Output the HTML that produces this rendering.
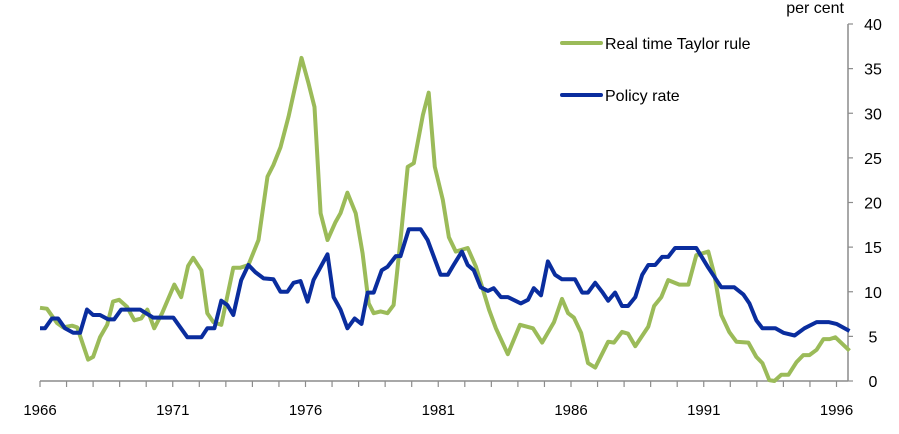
<!DOCTYPE html>
<html><head><meta charset="utf-8"><style>
html,body{margin:0;padding:0;background:#fff;}
svg{display:block;font-family:"Liberation Sans",sans-serif;}
</style></head><body>
<svg id="chart" width="899" height="434" viewBox="0 0 899 434">
<g id="axes"></g>
<g id="series"></g>
<g>
<line x1="562" y1="43" x2="601" y2="43" stroke="#9bbb59" stroke-width="4" stroke-linecap="round"/>
<text x="605" y="49" font-size="16" fill="#000">Real time Taylor rule</text>
<line x1="562" y1="95" x2="601" y2="95" stroke="#0a2d9e" stroke-width="4" stroke-linecap="round"/>
<text x="605" y="101" font-size="16" fill="#000">Policy rate</text>
</g>
<text x="844" y="13" font-size="16" text-anchor="end">per cent</text>
</svg>
<script>
const tickValues=[0,5,10,15,20,25,30,35,40];
const yearLabels=[1966,1971,1976,1981,1986,1991,1996];
const taylorDates=[1966,1966.26,1966.64,1966.87,1967.21,1967.4,1967.81,1968,1968.26,1968.53,1968.75,1968.98,1969.28,1969.55,1969.81,1970.04,1970.3,1970.6,1971.06,1971.32,1971.58,1971.77,1972.08,1972.3,1972.53,1972.83,1973.28,1973.55,1973.85,1974.23,1974.57,1974.79,1975.06,1975.36,1975.85,1976.11,1976.34,1976.57,1976.83,1977.13,1977.32,1977.58,1977.89,1978.15,1978.38,1978.57,1978.83,1979.09,1979.32,1979.58,1979.85,1980.08,1980.42,1980.64,1980.87,1981.17,1981.4,1981.66,1982.11,1982.42,1982.91,1983.17,1983.62,1984.08,1984.57,1984.91,1985.36,1985.66,1985.89,1986.11,1986.38,1986.64,1986.91,1987.4,1987.62,1987.92,1988.15,1988.42,1988.91,1989.13,1989.4,1989.66,1990.08,1990.42,1990.72,1991.17,1991.4,1991.66,1991.96,1992.23,1992.68,1992.98,1993.21,1993.47,1993.66,1993.92,1994.19,1994.49,1994.75,1994.98,1995.25,1995.51,1995.74,1995.96,1996.49];
const taylorValues=[8.2,8.1,6.5,6.0,6.2,6.0,2.4,2.7,4.9,6.3,8.9,9.1,8.3,6.8,7.0,8.0,5.9,7.6,10.8,9.4,12.9,13.8,12.4,7.6,6.6,6.3,12.7,12.7,13.0,15.8,22.9,24.2,26.2,29.6,36.2,33.4,30.7,18.8,15.8,17.8,18.8,21.1,18.8,14.3,8.7,7.6,7.8,7.6,8.5,15.8,24.0,24.4,29.8,32.3,24.0,20.3,16.1,14.5,14.9,12.8,8.0,5.9,3.0,6.3,5.9,4.3,6.6,9.2,7.6,7.1,5.4,2.0,1.5,4.4,4.3,5.5,5.3,3.9,6.1,8.4,9.4,11.3,10.8,10.8,14.1,14.5,11.9,7.4,5.5,4.4,4.3,2.7,2.0,0.1,0.0,0.7,0.7,2.1,2.9,2.9,3.5,4.7,4.7,4.9,3.4];
const policyDates=[1966,1966.19,1966.45,1966.68,1966.94,1967.25,1967.51,1967.77,1968,1968.26,1968.57,1968.79,1969.06,1969.77,1970.26,1971.02,1971.55,1972.08,1972.3,1972.57,1972.83,1973.06,1973.28,1973.58,1973.85,1974.11,1974.42,1974.79,1975.06,1975.32,1975.55,1975.81,1976.08,1976.3,1976.83,1977.06,1977.32,1977.58,1977.85,1978.11,1978.34,1978.57,1978.87,1979.09,1979.4,1979.58,1979.89,1980.34,1980.6,1981.09,1981.36,1981.58,1981.89,1982.11,1982.34,1982.6,1982.87,1983.09,1983.36,1983.62,1984.11,1984.38,1984.6,1984.87,1985.13,1985.4,1985.66,1986.15,1986.42,1986.64,1986.91,1987.17,1987.4,1987.66,1987.92,1988.15,1988.42,1988.68,1988.91,1989.17,1989.43,1989.66,1989.92,1990.72,1991.17,1991.66,1992.15,1992.49,1992.72,1992.98,1993.21,1993.7,1994,1994.42,1994.79,1995.25,1995.7,1996,1996.49];
const policyValues=[5.9,5.9,7.0,7.0,5.9,5.4,5.4,8.0,7.4,7.4,6.9,6.9,8.0,8.0,7.1,7.1,4.9,4.9,5.9,5.9,9.0,8.5,7.4,11.3,13.0,12.2,11.5,11.4,10.0,10.0,11.0,11.2,8.9,11.3,14.2,9.4,8.0,5.9,7.0,6.4,9.9,9.9,12.4,12.8,14.0,14.0,17.0,17.0,15.8,11.9,11.9,13.0,14.5,13.0,12.4,10.5,10.1,10.4,9.4,9.4,8.7,9.1,10.4,9.6,13.4,11.9,11.4,11.4,9.9,9.9,11.0,10.0,9.0,9.9,8.4,8.4,9.4,11.9,13.0,13.0,13.9,13.9,14.9,14.9,12.7,10.5,10.5,9.7,8.7,6.8,5.9,5.9,5.4,5.1,5.9,6.6,6.6,6.4,5.6];

const NS='http://www.w3.org/2000/svg';
const x0=40,x1=848,yBase=381,yTop=24;
const xScale=d=>x0+(d-1966)*26.55;
const yScale=v=>yBase-(v/40)*(yBase-yTop);
const axes=document.getElementById('axes');
const series=document.getElementById('series');
function mk(tag,attrs,parent){const e=document.createElementNS(NS,tag);for(const k in attrs)e.setAttribute(k,attrs[k]);parent.appendChild(e);return e;}

let l=mk('line',{x1:x0,y1:yBase,x2:x1,y2:yBase,stroke:'#8c8c8c','stroke-width':1.5},axes);


l=mk('line',{x1:x1,y1:yTop,x2:x1,y2:yBase,stroke:'#8c8c8c','stroke-width':1.5},axes);


for(let yr=1966;yr<=1996;yr++){
  const t=mk('line',{x1:xScale(yr),y1:yBase,x2:xScale(yr),y2:yBase+6,stroke:'#8c8c8c','stroke-width':1.2},axes);
  
  
}
yearLabels.forEach(yr=>{
  const t=mk('text',{x:xScale(yr),y:415,'font-size':15,'text-anchor':'middle'},axes);
  t.textContent=yr;
  
  
});
tickValues.forEach(v=>{
  const tk=mk('line',{x1:x1,y1:yScale(v),x2:x1+5,y2:yScale(v),stroke:'#8c8c8c','stroke-width':1.2},axes);
  
  
  const t=mk('text',{x:873,y:yScale(v)+6,'font-size':16,'text-anchor':'middle'},axes);
  t.textContent=v;
  
  
});
function path(dates,vals,color,name){
  const n=Math.min(dates.length,vals.length);
  let d='';
  for(let i=0;i<n;i++){d+=(i?'L':'M')+xScale(dates[i]).toFixed(1)+' '+yScale(vals[i]).toFixed(1)+' ';}
  const p=mk('path',{d:d,fill:'none',stroke:color,'stroke-width':4,'stroke-linejoin':'round'},series);
  
  
}
path(taylorDates,taylorValues,'#9bbb59','taylor-rule-line');
path(policyDates,policyValues,'#0a2d9e','policy-rate-line');
</script>
</body></html>
